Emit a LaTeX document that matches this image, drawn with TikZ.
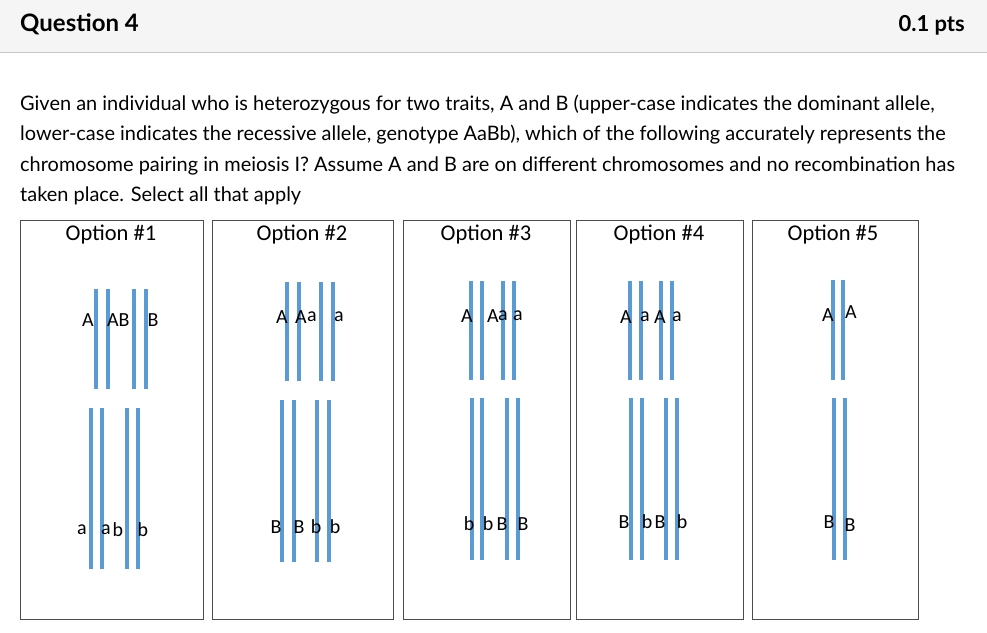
\documentclass[tikz,border=0pt]{standalone}
\usepackage{fontspec}
\setmainfont{Lato}
\newfontfamily\calib{Carlito}
\definecolor{chrom}{HTML}{5B9BD5}
\begin{document}
\begin{tikzpicture}[x=1pt,y=-1pt,
  chr/.style={draw=chrom,line width=3.4pt},
  box/.style={draw=black!70,line width=1pt},
  lbl/.style={font=\calib\fontsize{22.5}{22.5}\selectfont,inner sep=0pt},
  gl/.style={font=\calib\fontsize{20}{20}\selectfont,inner sep=0pt},
  body/.style={font=\fontsize{19.95}{20}\selectfont,anchor=base west,inner sep=0pt}]
\useasboundingbox (0,0) rectangle (987,632);
\fill[black!4] (0,0) rectangle (987,52);
\draw[black!22] (0,52) -- (987,52);
\node[font=\bfseries\fontsize{24}{24}\selectfont,anchor=base west,inner sep=0pt] (q) at (20,31) {Question 4};
\node[font=\bfseries\fontsize{22}{22}\selectfont,anchor=base east,inner sep=0pt] (pts) at (965,31) {0.1 pts};
\node[body] (l1) at (20,110) {Given an individual who is heterozygous for two traits, A and B (upper-case indicates the dominant allele,};
\node[body] (l2) at (20,140) {lower-case indicates the recessive allele, genotype AaBb), which of the following accurately represents the};
\node[body] (l3) at (20,171) {chromosome pairing in meiosis I? Assume A and B are on different chromosomes and no recombination has};
\node[body] (l4) at (20,201) {taken place. Select all that apply};
% boxes
\draw[box] (20,220) rectangle (203,619);
\draw[box] (212,220) rectangle (393,619);
\draw[box] (403,220) rectangle (570,619);
\draw[box] (576,220) rectangle (743,619);
\draw[box] (752,220) rectangle (918,619);
\node[lbl] (o1) at (111,235) {Option \#1};
\node[lbl] (o2) at (302,235) {Option \#2};
\node[lbl] (o3) at (486,235) {Option \#3};
\node[lbl] (o4) at (659,235) {Option \#4};
\node[lbl] (o5) at (833,235) {Option \#5};
% option 1
\foreach \x in {96,108,134,146} \draw[chr] (\x,289) -- (\x,389);
\foreach \x in {91,102,127,138} \draw[chr] (\x,408) -- (\x,569);
\foreach \x/\t in {88/A,113/A,124/B,153/B} \node[gl] at (\x,320) {\t};
\foreach \x/\t in {82/a,106/a,118/b,143/b} \node[gl] at (\x,530) {\t};
% option 2
\foreach \x in {287,299,321,333} \draw[chr] (\x,282) -- (\x,381);
\foreach \x in {282,294,317,329} \draw[chr] (\x,400) -- (\x,562);
\foreach \x/\t in {282/A,301/A,312/a,339/a} \node[gl] at (\x,317) {\t};
\foreach \x/\t in {276/B,299/B,316/b,335/b} \node[gl] at (\x,527) {\t};
% option 3
\foreach \x in {471,482,503,514} \draw[chr] (\x,281) -- (\x,380);
\foreach \x in {472,482,507,518} \draw[chr] (\x,398) -- (\x,560);
\foreach \x/\t in {467/A,493/A,503/a,518/a} \node[gl] at (\x,316) {\t};
\foreach \x/\t in {469/b,488/b,502/B,523/B} \node[gl] at (\x,524) {\t};
% option 4
\foreach \x in {630,641,661,672} \draw[chr] (\x,281) -- (\x,380);
\foreach \x in {631,642,666,677} \draw[chr] (\x,398) -- (\x,560);
\foreach \x/\t in {626/A,645/a,660/A,677/a} \node[gl] at (\x,317) {\t};
\foreach \x/\t in {624/B,647/b,660/B,682/b} \node[gl] at (\x,522) {\t};
% option 5
\foreach \x in {833,843} \draw[chr] (\x,280) -- (\x,380);
\foreach \x in {834,845} \draw[chr] (\x,398) -- (\x,560);
\node[gl] at (828,315) {A};
\node[gl] at (851,312) {A};
\node[gl] at (829,522) {B};
\node[gl] at (850,525) {B};
\end{tikzpicture}
\end{document}
